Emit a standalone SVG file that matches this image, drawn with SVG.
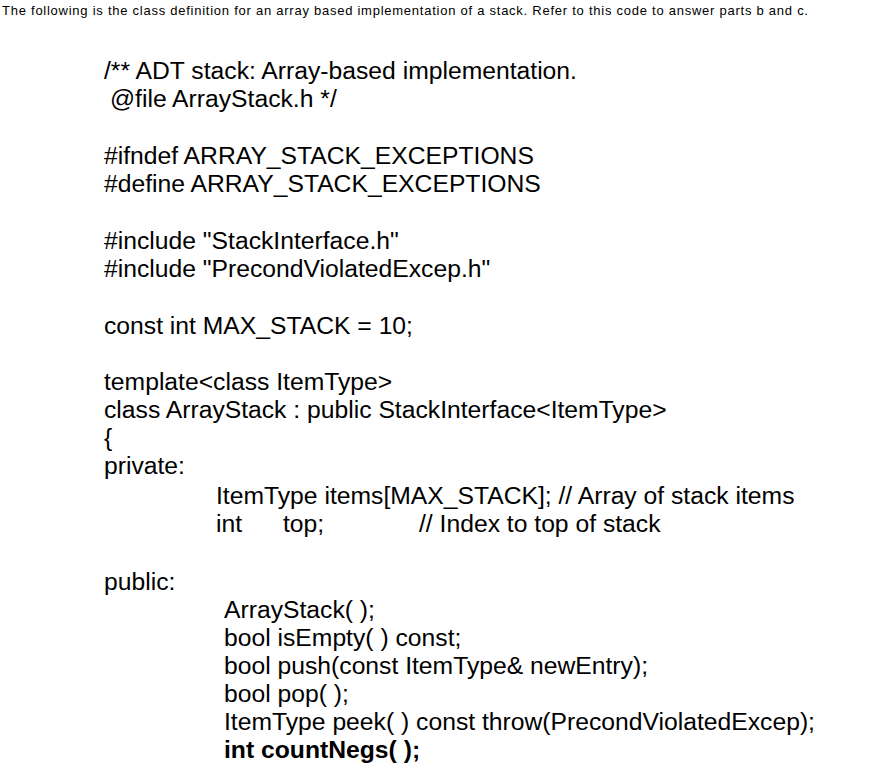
<svg xmlns="http://www.w3.org/2000/svg" width="893" height="766" viewBox="0 0 893 766">
<style>
text{font-family:"Liberation Sans",Arial,sans-serif;fill:#000}
.c{font-size:24.7px}
.b{font-weight:bold}
</style>
<rect width="893" height="766" fill="#fff"/>
<text x="2" y="15" font-size="13" textLength="806" lengthAdjust="spacing">The following is the class definition for an array based implementation of a stack.  Refer to this code to answer parts b and c.</text>
<g class="c">
<text x="104" y="79" class="c">/** ADT stack: Array-based implementation.</text>
<text x="110" y="107" class="c">@file ArrayStack.h */</text>
<text x="104" y="164" class="c">#ifndef ARRAY_STACK_EXCEPTIONS</text>
<text x="104" y="192" class="c">#define ARRAY_STACK_EXCEPTIONS</text>
<text x="104" y="249" class="c">#include "StackInterface.h"</text>
<text x="104" y="277" class="c">#include "PrecondViolatedExcep.h"</text>
<text x="104" y="334" class="c">const int MAX_STACK = 10;</text>
<text x="104" y="390" class="c">template&lt;class ItemType&gt;</text>
<text x="104" y="418" class="c">class ArrayStack : public StackInterface&lt;ItemType&gt;</text>
<text x="104" y="446" class="c">{</text>
<text x="104" y="474" class="c">private:</text>
<text x="216" y="504" class="c">ItemType items[MAX_STACK]; // Array of stack items</text>
<text x="216" y="532" class="c">int</text>
<text x="283" y="532" class="c">top;</text>
<text x="419" y="532" class="c">// Index to top of stack</text>
<text x="104" y="590" class="c">public:</text>
<text x="224" y="618" class="c">ArrayStack( );</text>
<text x="224" y="646" class="c">bool isEmpty( ) const;</text>
<text x="224" y="674" class="c">bool push(const ItemType&amp; newEntry);</text>
<text x="224" y="702" class="c">bool pop( );</text>
<text x="224" y="730" class="c">ItemType peek( ) const throw(PrecondViolatedExcep);</text>
<text x="224" y="758" class="c b">int countNegs( );</text>
</g>
</svg>
